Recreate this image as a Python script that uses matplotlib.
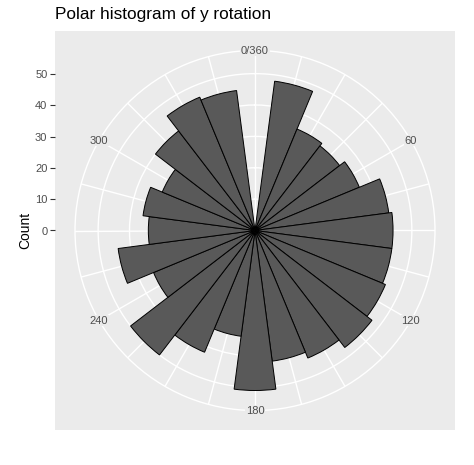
import numpy as np
import matplotlib
matplotlib.use("Agg")
import matplotlib.pyplot as plt

plt.rcParams['font.family'] = ['Liberation Sans', 'DejaVu Sans']

# bin centres (degrees) and counts
angles = [15, 30, 45, 60, 75, 90, 105, 120, 135, 150, 165, 180,
          195, 210, 225, 240, 255, 270, 285, 300, 315, 330, 345]
counts = [48, 35, 34, 36, 43, 44, 44, 45, 47, 44, 42, 51,
          34, 42, 50, 35, 44, 34, 36, 32, 40, 46, 45]
bin_width = 15
theta_labels = {0: "0/360", 60: "60", 120: "120", 180: "180", 240: "240", 300: "300"}
r_breaks = [0, 10, 20, 30, 40, 50]

W, H = 474, 465
fig = plt.figure(figsize=(W / 100, H / 100), dpi=100)

r_max = max(counts)
grey_txt = '#4D4D4D'
panel_col = '#EBEBEB'

# panel background + Count axis (ggplot: r from 0.5 to 0.9 of the panel)
px0, py0, pw, ph = 55, 31, 400, 399
bg = fig.add_axes([px0 / W, (H - py0 - ph) / H, pw / W, ph / H])
bg.set_facecolor(panel_col)
half = r_max / 0.4 * 0.5
bg.set_ylim(-half, half)
bg.set_xlim(0, 1)
bg.set_xticks([])
bg.set_yticks(r_breaks)
bg.tick_params(axis='y', length=3.5, width=0.8, color='#333333',
               labelcolor=grey_txt, labelsize=8, pad=2)
for s in bg.spines.values():
    s.set_visible(False)
bg.set_ylabel("Count", fontsize=10, color='black', labelpad=2)

# polar part, outer circle at 0.45 of the panel
cx, cy = px0 + pw / 2, py0 + ph / 2
rad = 0.45 * pw
ax = fig.add_axes([(cx - rad) / W, (H - cy - rad) / H, 2 * rad / W, 2 * rad / H],
                  projection='polar')
ax.set_facecolor('none')
ax.set_theta_zero_location('N')
ax.set_theta_direction(-1)
r_outer = r_max * 0.45 / 0.4
ax.set_ylim(0, r_outer)
ax.set_rgrids(r_breaks[1:], labels=[''] * (len(r_breaks) - 1))
ax.set_thetagrids(np.arange(0, 360, 15), labels=[''] * 24)
ax.grid(True, color='white', linewidth=1.0)
ax.spines['polar'].set_color('white')
ax.spines['polar'].set_linewidth(1.0)
ax.tick_params(length=0)

ax.bar(np.deg2rad(angles), counts, width=np.deg2rad(bin_width),
       color='#595959', edgecolor='black', linewidth=0.7, zorder=3)

for a, lab in theta_labels.items():
    ax.text(np.deg2rad(a), r_outer, lab, ha='center', va='center',
            fontsize=8, color=grey_txt, zorder=4,
            bbox=dict(facecolor=panel_col, edgecolor='none', pad=0.6))

fig.text(px0 / W, 1 - 15 / H, "Polar histogram of y rotation",
         fontsize=12.4, color='black', ha='left', va='center')

fig.savefig("out.png", dpi=100)
